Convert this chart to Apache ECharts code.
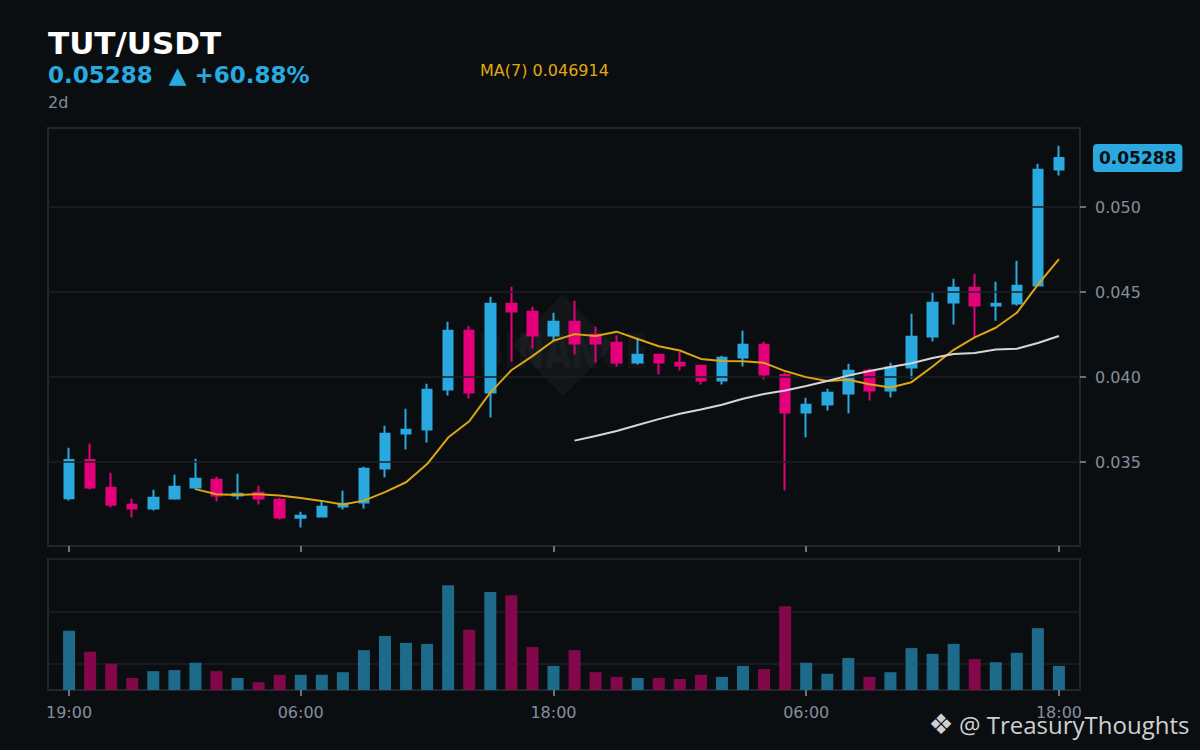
<!DOCTYPE html>
<html>
<head>
<meta charset="utf-8">
<script src="https://cdn.jsdelivr.net/npm/echarts@6/dist/echarts.min.js"></script>
<style>
html,body{margin:0;padding:0;background:#0b0e11;}
#chart{width:1200px;height:750px;}
</style>
</head>
<body>
<div id="chart"></div>
<script>
// ---- data (hourly candles, TUT/USDT) ----
const times = [
  '19:00','20:00','21:00','22:00','23:00',
  '00:00','01:00','02:00','03:00','04:00','05:00','06:00','07:00','08:00','09:00','10:00','11:00',
  '12:00','13:00','14:00','15:00','16:00','17:00','18:00','19:00','20:00','21:00','22:00','23:00',
  '00:00','01:00','02:00','03:00','04:00','05:00','06:00','07:00','08:00','09:00','10:00','11:00',
  '12:00','13:00','14:00','15:00','16:00','17:00','18:00'
];
const opens = [
  0.03287,0.035118,0.033488,0.032488,0.032271,0.032859,0.033506,0.033959,0.033035,0.033194,
  0.032782,0.031724,0.031800,0.032388,0.032624,0.034624,0.036682,0.036918,0.039271,0.042724,
  0.039094,0.044312,0.043841,0.042447,0.043253,0.042488,0.042018,0.040859,0.041312,0.040841,
  0.040665,0.039800,0.041153,0.041900,0.040118,0.037918,0.038388,0.039035,0.040371,0.039212,
  0.040565,0.042388,0.044388,0.045253,0.044212,0.044329,0.045388,0.052212
];
const closes = [
  0.035118,0.033506,0.032488,0.032271,0.032900,0.033547,0.034018,0.033035,0.033135,0.032859,
  0.031741,0.031841,0.032371,0.032547,0.034606,0.036665,0.036900,0.039253,0.042724,0.039094,
  0.044312,0.043859,0.042447,0.043253,0.041976,0.041976,0.040859,0.041312,0.040859,0.040682,
  0.039800,0.041135,0.041900,0.040153,0.037918,0.038371,0.039076,0.040371,0.039212,0.040565,
  0.042371,0.044371,0.045253,0.044212,0.044312,0.045371,0.052194,0.05288
];
const lows = [
  0.032741,0.033388,0.032329,0.031741,0.032153,0.032782,0.033371,0.032682,0.032800,0.032506,
  0.031624,0.031153,0.031741,0.032212,0.032271,0.034094,0.035741,0.036153,0.038918,0.038741,
  0.037624,0.040918,0.041682,0.042094,0.041329,0.040859,0.040624,0.040741,0.040153,0.040388,
  0.039565,0.039565,0.040624,0.039859,0.033329,0.036459,0.038035,0.037859,0.038624,0.038800,
  0.039900,0.042094,0.043094,0.042353,0.043312,0.044212,0.045388,0.051859
];
const highs = [
  0.035841,0.036076,0.034371,0.032841,0.033371,0.034253,0.035194,0.034135,0.034312,0.033606,
  0.032900,0.032076,0.032724,0.033312,0.034724,0.037135,0.038135,0.039606,0.043253,0.043018,
  0.044724,0.045312,0.044135,0.043782,0.044488,0.042959,0.042447,0.042271,0.041312,0.041488,
  0.040724,0.041253,0.042724,0.042076,0.040271,0.038782,0.039312,0.040782,0.040506,0.040841,
  0.043724,0.045000,0.045782,0.046076,0.045606,0.046841,0.052547,0.053606
];
// volume, millions of TUT
const volumes = [
  1.13,0.73,0.50,0.23,0.36,0.38,0.52,0.36,0.23,0.15,
  0.29,0.29,0.29,0.34,0.76,1.03,0.90,0.88,2.00,1.15,
  1.87,1.81,0.82,0.46,0.76,0.34,0.25,0.23,0.23,0.21,
  0.29,0.25,0.46,0.40,1.60,0.52,0.31,0.61,0.25,0.34,
  0.80,0.69,0.88,0.59,0.53,0.71,1.18,0.46
];
const priceTicks = [0.035, 0.040, 0.045, 0.050];
const timeLabelsShown = ['06:00', '18:00'];
const pairName = 'TUT/USDT';
const periodLabel = '2d';
const maLabel = 'MA(7) 0.046914';

// ---- build ----
const UP = '#29a9df', DOWN = '#e4007a';
const UP_VOL = '#1d6a8b', DOWN_VOL = '#83084b';
const n = closes.length;
const cats = [''].concat(times, ['']);
const candleData = ['-'].concat(times.map((t, i) => [opens[i], closes[i], lows[i], highs[i]]), ['-']);
function movingAvg(k) {
  const out = ['-'];
  for (let i = 0; i < n; i++) {
    if (i < k - 1) { out.push('-'); continue; }
    let s = 0;
    for (let j = i - k + 1; j <= i; j++) s += closes[j];
    out.push(+(s / k).toFixed(6));
  }
  out.push('-');
  return out;
}
const volData = ['-'].concat(volumes.map((v, i) => ({
  value: v,
  itemStyle: { color: closes[i] >= opens[i] ? UP_VOL : DOWN_VOL }
})), ['-']);

const lastClose = closes[n - 1];
const changePct = (lastClose - opens[0]) / opens[0] * 100;
const headerPrice = lastClose.toFixed(5) + '  \u25B2 +' + changePct.toFixed(2) + '%';

const FONT = '"DejaVu Sans", sans-serif';
const showTick = (idx, val) => idx === 1 || timeLabelsShown.indexOf(val) >= 0;
const PMIN = 0.03006, PMAX = 0.05465;

const chart = echarts.init(document.getElementById('chart'), null, { renderer: 'svg' });
chart.setOption({
  backgroundColor: '#0b0e11',
  animation: false,
  textStyle: { fontFamily: FONT },
  grid: [
    { left: 48, right: 120, top: 128, height: 418, show: true, borderColor: '#23272c', borderWidth: 2, backgroundColor: 'transparent' },
    { left: 48, right: 120, top: 559, height: 131, show: true, borderColor: '#23272c', borderWidth: 2, backgroundColor: 'transparent' }
  ],
  xAxis: [
    {
      type: 'category', gridIndex: 0, data: cats, boundaryGap: false,
      axisLine: { show: false },
      axisTick: { show: true, interval: showTick, length: 6, lineStyle: { color: '#6a727e', width: 2 } },
      axisLabel: { show: false },
      splitLine: { show: false }
    },
    {
      type: 'category', gridIndex: 1, data: cats, boundaryGap: false,
      axisLine: { show: false },
      axisTick: { show: true, interval: showTick, length: 6, lineStyle: { color: '#6a727e', width: 2 } },
      axisLabel: { show: true, interval: showTick, color: '#848e9c', fontSize: 16, margin: 14, fontFamily: FONT },
      splitLine: { show: false }
    }
  ],
  yAxis: [
    {
      type: 'value', gridIndex: 0, position: 'right', scale: true,
      min: PMIN, max: PMAX, z: 3,
      axisLine: { show: false },
      axisTick: { show: true, length: 6, customValues: priceTicks, lineStyle: { color: '#6a727e', width: 2 } },
      axisLabel: { customValues: priceTicks, color: '#848e9c', fontSize: 16, margin: 15, fontFamily: FONT,
        formatter: v => v.toFixed(3) },
      splitLine: { show: true, lineStyle: { color: '#1d2125', width: 1.5 } }
    },
    {
      type: 'value', gridIndex: 1, position: 'right',
      min: 0, max: 2.5, interval: 0.5,
      axisLine: { show: false },
      axisTick: { show: false },
      axisLabel: { show: false },
      splitLine: { show: true, lineStyle: { color: ['rgba(0,0,0,0)', '#1d2125'], width: 1.5 } }
    },
    {
      type: 'value', gridIndex: 0, position: 'right', scale: true,
      min: PMIN, max: PMAX, z: 6,
      axisLine: { show: false },
      axisTick: { show: false },
      splitLine: { show: false },
      axisLabel: {
        customValues: [lastClose], margin: 13,
        formatter: v => v.toFixed(5),
        backgroundColor: UP, color: '#0b0e11', fontWeight: 'bold', fontSize: 17,
        fontFamily: FONT, padding: [5, 6, 4, 6], borderRadius: 4, lineHeight: 19
      }
    }
  ],
  series: [
    {
      name: 'Price', type: 'candlestick', xAxisIndex: 0, yAxisIndex: 0,
      data: candleData, barWidth: 10,
      itemStyle: { color: UP, color0: DOWN, borderColor: UP, borderColor0: DOWN, borderWidth: 2 }
    },
    {
      name: 'MA7', type: 'line', xAxisIndex: 0, yAxisIndex: 0, data: movingAvg(7),
      showSymbol: false, symbol: 'none', lineStyle: { color: '#dea512', width: 2 }, z: 4
    },
    {
      name: 'MA25', type: 'line', xAxisIndex: 0, yAxisIndex: 0, data: movingAvg(25),
      showSymbol: false, symbol: 'none', lineStyle: { color: '#d6d6d6', width: 2 }, z: 4
    },
    {
      name: 'Volume', type: 'bar', xAxisIndex: 1, yAxisIndex: 1, data: volData, barWidth: 12
    }
  ],
  graphic: [
    { type: 'polygon', z: 1, silent: true,
      shape: { points: [[563, 294], [614, 345], [563, 396], [512, 345]] },
      style: { fill: 'rgba(255,255,255,0.035)' } },
    { type: 'text', z: 1, silent: true, x: 563, y: 351, scaleX: 0.71, originX: 0,
      style: { text: 'BINANCE', fill: 'rgba(255,255,255,0.05)', font: 'bold 48px "DejaVu Sans"',
        align: 'center', textAlign: 'center', verticalAlign: 'middle', textVerticalAlign: 'middle' } },
    { type: 'text', z: 10, silent: true, x: 48, y: 43,
      style: { text: pairName, fill: '#ffffff', font: 'bold 31px "DejaVu Sans"',
        verticalAlign: 'middle', textVerticalAlign: 'middle' } },
    { type: 'text', z: 10, silent: true, x: 48, y: 75,
      style: { text: headerPrice, fill: UP, font: 'bold 23px "DejaVu Sans"',
        verticalAlign: 'middle', textVerticalAlign: 'middle' } },
    { type: 'text', z: 10, silent: true, x: 48, y: 102,
      style: { text: periodLabel, fill: '#848e9c', font: '16px "DejaVu Sans"',
        verticalAlign: 'middle', textVerticalAlign: 'middle' } },
    { type: 'text', z: 10, silent: true, x: 480, y: 70,
      style: { text: maLabel, fill: '#e0a910', font: '16px "DejaVu Sans"',
        verticalAlign: 'middle', textVerticalAlign: 'middle' } },
    { type: 'text', z: 20, silent: true, x: 941, y: 724,
      style: { text: '\u2756', fill: '#cfd0d2', font: '28px "DejaVu Sans"',
        align: 'center', textAlign: 'center', verticalAlign: 'middle', textVerticalAlign: 'middle' } },
    { type: 'text', z: 20, silent: true, x: 959, y: 724,
      style: { text: '@ TreasuryThoughts', fill: '#cfd0d2', font: '24px "Open Sans"',
        verticalAlign: 'middle', textVerticalAlign: 'middle' } }
  ]
});
</script>
</body>
</html>
